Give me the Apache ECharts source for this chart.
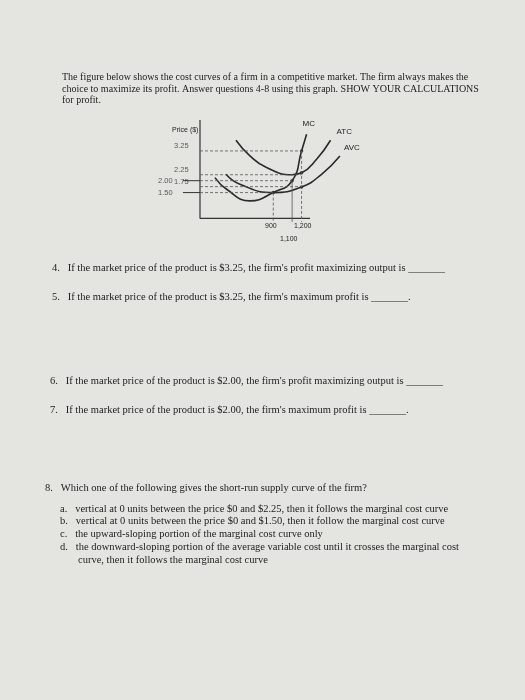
<!DOCTYPE html><html><head><meta charset="utf-8"><script src="https://cdn.jsdelivr.net/npm/echarts@6/dist/echarts.min.js"></script>
<style>html,body{margin:0;background:#e4e4e1}#c{width:525px;height:700px}</style></head><body><div id="c"></div><script>
const X0=124, Y0=0.42;
const mc=[[282,2.13],[406,1.64],[653,1.15],[900,1.50],[1100,2.00],[1200,3.25],[1253,3.95]];
const atc=[[505,3.70],[653,3.04],[829,2.55],[1100,2.25],[1200,2.33],[1359,2.90],[1507,3.70]];
const avc=[[399,2.27],[547,1.85],[900,1.50],[1200,1.74],[1412,2.27],[1606,3.04]];
const priceTicks=[3.25,2.25,2.00,1.75,1.50];
const priceLabels=['3.25','2.25','2.00','1.75','1.50'];
const hEnds=[1200,1200,1100,1200,900];
const qTicks=[900,1100,1200];
const qTop=[1.50,2.00,3.25];
const dots=[[900,1.50],[1100,2.00],[1200,3.25],[1200,2.33],[1200,1.74]];
const F='"Liberation Serif",serif', S='"Liberation Sans",sans-serif';
const series=[];
const curve=(d,n,lx,ly)=>series.push({type:'line',data:d,smooth:0.5,symbol:'none',lineStyle:{color:'#2a2a2a',width:1.6},
  endLabel:{show:true,formatter:n,color:'#222',fontFamily:S,fontSize:8,offset:[lx,ly]}});
curve(mc,'MC',-12,-10);curve(atc,'ATC',-2,-8);curve(avc,'AVC',-4,-8);
series.push({type:'line',data:[[X0,4.55],[X0,Y0],[1290,Y0]],symbol:'none',lineStyle:{color:'#333',width:1.2}});
priceTicks.forEach((p,i)=>{
  series.push({type:'line',data:[[X0,p],[hEnds[i],p]],symbol:'none',lineStyle:{color:'#555',width:0.8,type:[3,2]}});
  const outside=(i===2||i===4);
  series.push({type:'scatter',data:[[X0,p]],symbolSize:0,label:{show:true,formatter:priceLabels[i],position:outside?[-42,-4]:[-26,-9],color:'#333',fontFamily:S,fontSize:7.5}});
  if(outside) series.push({type:'line',data:[[X0-180,p],[X0,p]],symbol:'none',lineStyle:{color:'#333',width:1}});
});
qTicks.forEach((q,i)=>series.push({type:'line',data:[[q,qTop[i]],[q,Y0-0.15]],symbol:'none',lineStyle:{color:'#555',width:0.8,type:i==1?'solid':[3,2]}}));
series.push({type:'scatter',data:dots,symbolSize:3.5,itemStyle:{color:'#222'}});
const T=(x,y,t,o={})=>({type:'text',left:x,top:y,style:{text:t,fontFamily:o.f||F,fontSize:o.s||10.5,fill:'#222'}});
const g=[
 T(62,72,'The figure below shows the cost curves of a firm in a competitive market. The firm always makes the',{s:10}),
 T(62,84,'choice to maximize its profit. Answer questions 4-8 using this graph. SHOW YOUR CALCULATIONS',{s:10}),
 T(62,95,'for profit.',{s:10}),
 T(172,127,'Price ($)',{f:S,s:7}),
 T(265,223,'900',{f:S,s:7}),T(294,223,'1,200',{f:S,s:7}),T(280,236,'1,100',{f:S,s:7}),
 T(52,263,'4.   If the market price of the product is $3.25, the firm\'s profit maximizing output is _______'),
 T(52,292,'5.   If the market price of the product is $3.25, the firm\'s maximum profit is _______.'),
 T(50,376,'6.   If the market price of the product is $2.00, the firm\'s profit maximizing output is _______'),
 T(50,405,'7.   If the market price of the product is $2.00, the firm\'s maximum profit is _______.'),
 T(45,483,'8.   Which one of the following gives the short-run supply curve of the firm?'),
 T(60,504,'a.   vertical at 0 units between the price $0 and $2.25, then it follows the marginal cost curve'),
 T(60,516,'b.   vertical at 0 units between the price $0 and $1.50, then it follow the marginal cost curve'),
 T(60,529,'c.   the upward-sloping portion of the marginal cost curve only'),
 T(60,542,'d.   the downward-sloping portion of the average variable cost until it crosses the marginal cost'),
 T(78,555,'curve, then it follows the marginal cost curve')
];
const XMIN=X0-220, XMAX=1650, PX=0.0944;
const YMIN=Y0-0.15, YMAX=4.55, PY=23.8;
const ch=echarts.init(document.getElementById('c'));
ch.setOption({backgroundColor:'#e4e4e1',animation:false,
 grid:{left:200-(X0-XMIN)*PX,top:120,width:(XMAX-XMIN)*PX,height:(YMAX-YMIN)*PY},
 xAxis:{type:'value',min:XMIN,max:XMAX,show:false},
 yAxis:{type:'value',min:YMIN,max:YMAX,show:false},
 series,graphic:g});
</script></body></html>
